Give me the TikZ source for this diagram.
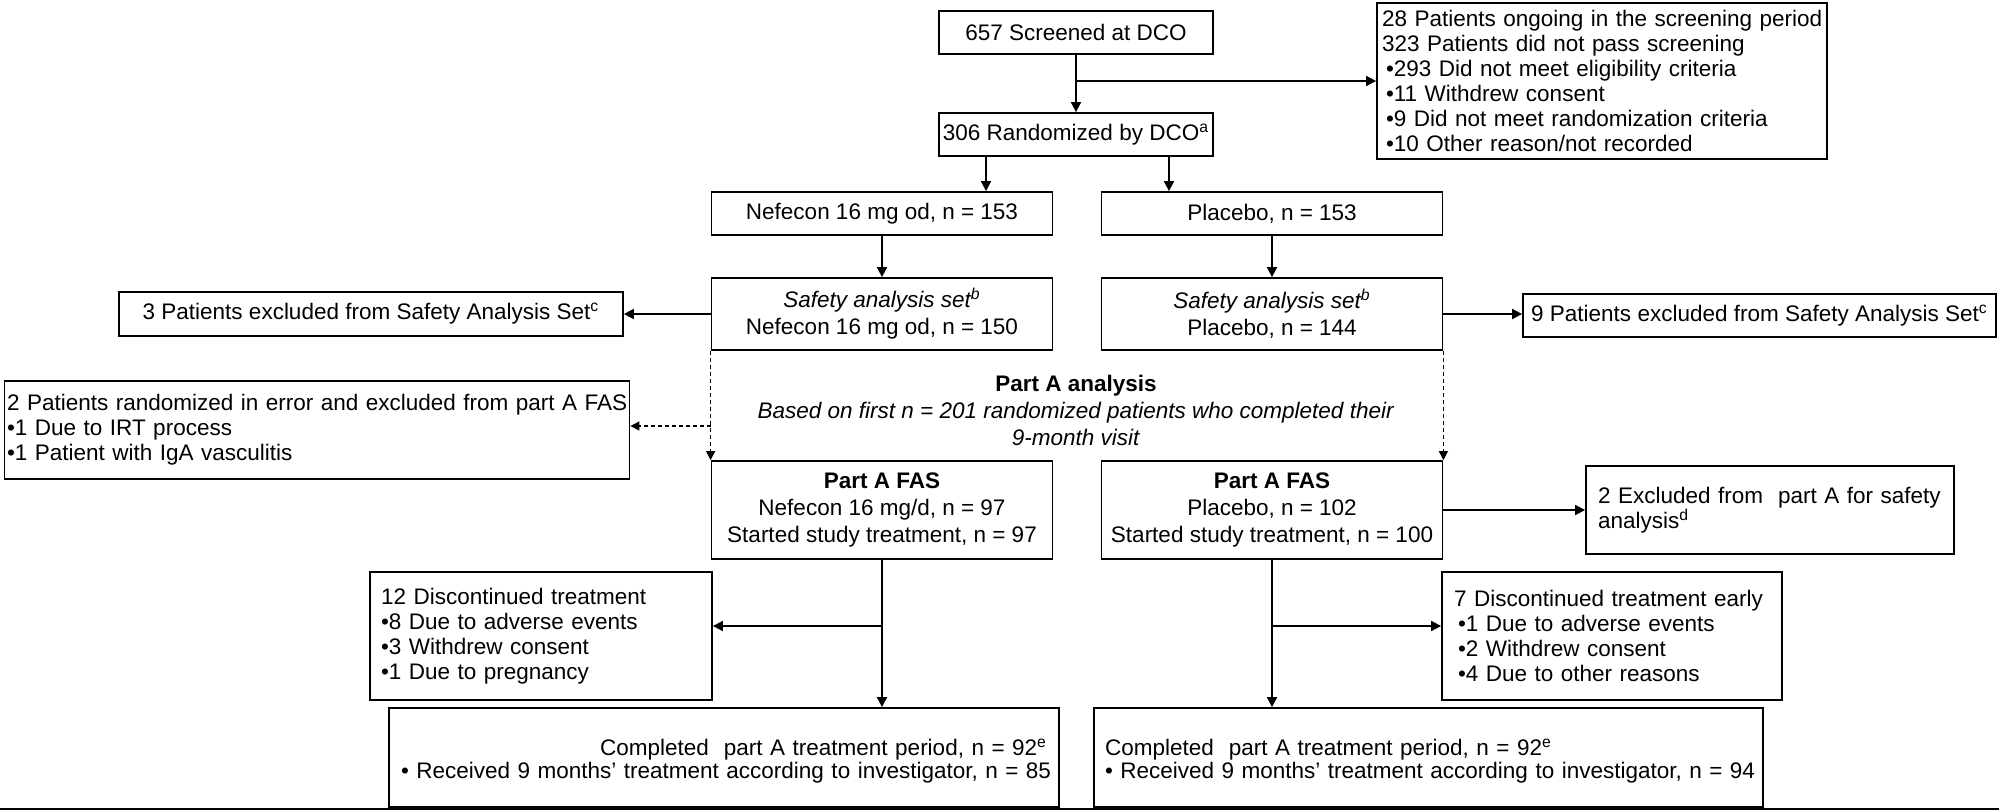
\documentclass[tikz,border=0pt]{standalone}
\usepackage{fontspec}
\setmainfont{Liberation Sans}
\usetikzlibrary{arrows.meta}
\hbadness=10000
\hfuzz=20pt
\tikzset{
  box/.style={draw, line width=0.9pt, inner sep=0pt, align=center},
  lbox/.style={box, align=left},
  rbox/.style={box, align=right},
  arr/.style={line width=0.9pt, -{Triangle[length=5pt,width=5pt]}},
  darr/.style={line width=0.6pt, dash pattern=on 2pt off 1.5pt, -{Triangle[length=4.5pt,width=4.5pt]}},
  wide/.style={font=\fontsize{11.25pt}{13.5pt}\selectfont},
  tight/.style={font=\fontsize{11.25pt}{11.5pt}\selectfont},
}
\begin{document}
\begin{tikzpicture}[x=0.5pt,y=-0.5pt, every node/.style={font=\fontsize{11.25pt}{12.5pt}\selectfont}]
\useasboundingbox (0,0) rectangle (1999,811);

% top
\node[box, minimum width=137pt, minimum height=21.5pt] (screened) at (1076,32.5) {657 Screened at DCO};
\node[lbox, text width=220pt, inner xsep=2.5pt, minimum height=78pt] (scrx) at (1602,81)
  {\mbox{28 Patients ongoing in the screening period}\\
   \mbox{323 Patients did not pass screening}\\
   \mbox{\hspace*{2pt}•293 Did not meet eligibility criteria}\\
   \mbox{\hspace*{2pt}•11 Withdrew consent}\\
   \mbox{\hspace*{2pt}•9 Did not meet randomization criteria}\\
   \mbox{\hspace*{2pt}•10 Other reason/not recorded}};
\node[box, minimum width=137pt, minimum height=21.5pt] (rand) at (1076,134.5) {306 Randomized by DCO\textsuperscript{a}};

% arms
\node[box, minimum width=170.5pt, minimum height=21.5pt] (nefecon) at (882,213.5) {Nefecon 16 mg od, n = 153};
\node[box, minimum width=170.5pt, minimum height=21.5pt] (placebo) at (1272,213.5) {Placebo, n = 153};

% safety
\node[box, wide, minimum width=170.5pt, minimum height=36pt] (safeL) at (882,314)
  {\textit{Safety analysis set\textsuperscript{b}}\\Nefecon 16 mg od, n = 150};
\node[box, wide, minimum width=170.5pt, minimum height=36pt] (safeR) at (1272,314)
  {\textit{Safety analysis set\textsuperscript{b}}\\Placebo, n = 144};
\node[box, minimum width=252pt, minimum height=22pt] (excl3) at (371,314)
  {3 Patients excluded from Safety Analysis Set\textsuperscript{c}};
\node[box, minimum width=236.5pt, minimum height=21.5pt] (excl9) at (1759.5,315.5)
  {9 Patients excluded from Safety Analysis Set\textsuperscript{c}};

% part A analysis
\node[wide, align=center, inner sep=0pt] (parta) at (1076,410)
  {\textbf{Part A analysis}\\
   \textit{Based on first n = 201 randomized patients who completed their}\\
   \textit{9-month visit}};
\node[lbox, text width=310pt, inner xsep=1.25pt, minimum height=49pt] (rand2) at (317,430)
  {\mbox{2 Patients randomized in error and excluded from part A FAS}\\
   \mbox{•1 Due to IRT process}\\
   \mbox{•1 Patient with IgA vasculitis}};

% FAS
\node[box, wide, minimum width=170.5pt, minimum height=49pt] (fasL) at (882,510)
  {\textbf{Part A FAS}\\Nefecon 16 mg/d, n = 97\\Started study treatment, n = 97};
\node[box, wide, minimum width=170.5pt, minimum height=49pt] (fasR) at (1272,510)
  {\textbf{Part A FAS}\\Placebo, n = 102\\Started study treatment, n = 100};
\node[lbox, text width=172pt, inner xsep=6pt, minimum height=44pt] (excl2) at (1770,510)
  {\mbox{2 Excluded from~ part A for safety}\\\mbox{analysis\textsuperscript{d}}};

% discontinued
\node[lbox, text width=160pt, inner xsep=5.5pt, minimum height=64pt] (disc12) at (541,636)
  {\mbox{12 Discontinued treatment}\\
   \mbox{•8 Due to adverse events}\\
   \mbox{•3 Withdrew consent}\\
   \mbox{•1 Due to pregnancy}};
\node[lbox, text width=158pt, inner xsep=6pt, minimum height=64pt] (disc7) at (1612,636)
  {\mbox{7 Discontinued treatment early}\\
   \mbox{\hspace*{2pt}•1 Due to adverse events}\\
   \mbox{\hspace*{2pt}•2 Withdrew consent}\\
   \mbox{\hspace*{2pt}•4 Due to other reasons}};

% completed
\node[rbox, tight, text width=323pt, inner xsep=6pt, minimum height=49.5pt] (complL) at (724,757.5)
  {\mbox{\rule{0pt}{12pt}Completed~ part A treatment period, n = 92\textsuperscript{e}}\\
   \mbox{• Received 9 months’ treatment according to investigator, n = 85}};
\node[lbox, tight, text width=323.5pt, inner xsep=5.5pt, minimum height=49.5pt] (complR) at (1428.5,757.5)
  {\mbox{\rule{0pt}{12pt}Completed~ part A treatment period, n = 92\textsuperscript{e}}\\
   \mbox{• Received 9 months’ treatment according to investigator, n = 94}};

% connectors
\draw[arr] (screened) -- (rand);
\draw[arr] (screened.south |- scrx.west) -- (scrx.west);
\draw[arr] ([xshift=-45pt]rand.south) -- ([xshift=-45pt]rand.south |- nefecon.north);
\draw[arr] ([xshift=46.5pt]rand.south) -- ([xshift=46.5pt]rand.south |- placebo.north);
\draw[arr] (nefecon) -- (safeL);
\draw[arr] (placebo) -- (safeR);
\draw[arr] (safeL.west) -- (excl3.east);
\draw[arr] (safeR.east) -- (safeR.east -| excl9.west);
\draw[darr] (safeL.south west) -- (safeL.south west |- fasL.north);
\coordinate (r2) at ([yshift=2pt]rand2.east);
\draw[darr] (safeL.south west |- r2) -- (r2);
\draw[darr] (safeR.south east) -- (safeR.south east |- fasR.north);
\draw[arr] (fasR.east) -- (excl2.west);
\draw[arr] (fasL.south) -- (fasL.south |- complL.north);
\coordinate (d12) at ([yshift=5pt]disc12.east);
\draw[arr] (fasL.south |- d12) -- (d12);
\draw[arr] (fasR.south) -- (fasR.south |- complR.north);
\coordinate (d7) at ([yshift=5pt]disc7.west);
\draw[arr] (fasR.south |- d7) -- (d7);

% bottom rule
\draw[line width=1.2pt] (0,809) -- (1999,809);
\end{tikzpicture}
\end{document}
